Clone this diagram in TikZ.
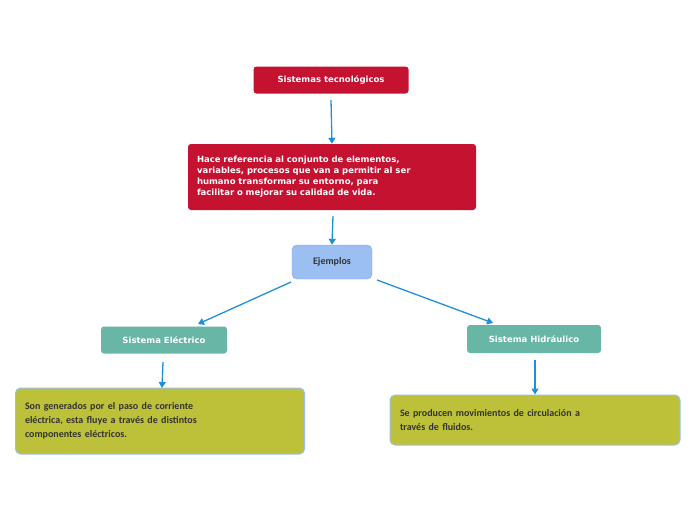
\documentclass[tikz,border=0pt]{standalone}
\usepackage{fontspec}
\setmainfont{Carlito}
\newfontfamily\verd{DejaVu Sans}
\usetikzlibrary{arrows.meta}
\definecolor{rd}{HTML}{C41230}
\definecolor{bl}{HTML}{9BBFF0}
\definecolor{tl}{HTML}{68B6A6}
\definecolor{ol}{HTML}{BDC13A}
\definecolor{ln}{HTML}{1E90D8}
\definecolor{tx}{HTML}{333333}
\begin{document}
\begin{tikzpicture}[x=1pt,y=-1pt,
 red/.style={fill=rd,rounded corners=3pt,text=white,font=\verd\bfseries\fontsize{8.5}{11}\selectfont},
 teal/.style={fill=tl,rounded corners=3pt,text=white,font=\verd\bfseries\fontsize{8.5}{11}\selectfont},
 olive/.style={fill=ol,draw=bl,line width=1pt,rounded corners=5pt,text=tx,font=\bfseries\fontsize{10}{14}\selectfont,align=left,inner sep=0pt},
 conn/.style={ln,line width=1.3pt,-{Triangle[length=6pt,width=7pt]}}]
\useasboundingbox (0,0) rectangle (696,520);
\node[red,minimum width=155pt,minimum height=27pt] (a) at (331,80) {Sistemas tecnológicos};
\node[red,minimum width=288pt,minimum height=66pt,align=left,text width=270pt] (b) at (332,177) {Hace referencia al conjunto de elementos,\\variables, procesos que van a permitir al ser\\humano transformar su entorno, para\\facilitar o mejorar su calidad de vida.};
\node[fill=bl,draw=bl!80!blue,rounded corners=5pt,minimum width=80pt,minimum height=34pt,text=tx,font=\bfseries\fontsize{10}{12}\selectfont] (c) at (332,262) {Ejemplos};
\node[teal,minimum width=126pt,minimum height=27pt] (d) at (164,340) {Sistema Eléctrico};
\node[teal,minimum width=134pt,minimum height=28pt] (e) at (534,339) {Sistema Hidráulico};
\node[olive,minimum width=289pt,minimum height=66pt,text width=270pt] (f) at (160,421) {Son generados por el paso de corriente\\eléctrica, esta fluye a través de distintos\\componentes eléctricos.};
\node[olive,minimum width=290pt,minimum height=50pt,text width=270pt] (g) at (535,420) {Se producen movimientos de circulación a\\través de fluidos.};
\draw[conn] (331,100) -- (b.north);
\draw[conn] (333,216) -- (c.north);
\draw[conn] (291,282) -- (198,324);
\draw[conn] (377,280) -- (493,323);
\draw[conn] (163,362) -- (162,388);
\draw[conn] (535,360) -- (g.north);
\end{tikzpicture}
\end{document}
